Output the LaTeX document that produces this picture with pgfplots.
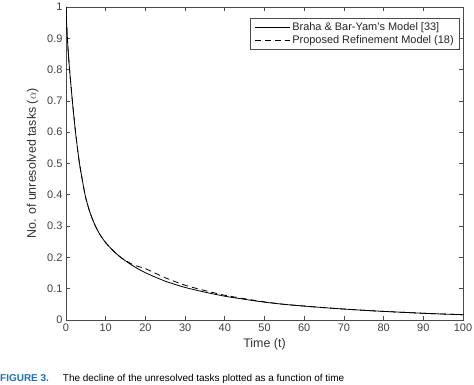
\documentclass[border=0pt]{standalone}
\usepackage{pgfplots}
\pgfplotsset{compat=1.18}
\usepackage{fontspec}
\setmainfont{Liberation Sans}
\definecolor{capblue}{HTML}{1F6FB5}
\definecolor{axgray}{HTML}{4A4A4A}
\begin{document}
\begin{tikzpicture}[x=1bp,y=1bp]
\useasboundingbox (0,0) rectangle (474,384);
\begin{axis}[
  at={(66bp,64bp)}, anchor=south west,
  scale only axis, width=397bp, height=313bp,
  xmin=0, xmax=100, ymin=0, ymax=1,
  xtick={0,10,20,30,40,50,60,70,80,90,100},
  ytick={0,0.1,0.2,0.3,0.4,0.5,0.6,0.7,0.8,0.9,1},
  yticklabels={0,0.1,0.2,0.3,0.4,0.5,0.6,0.7,0.8,0.9,1},
  tick align=inside, tick pos=both,
  major tick length=4bp,
  axis line style={axgray, line width=0.7bp},
  tick style={axgray, line width=0.7bp},
  ticklabel style={font=\fontsize{11}{13}\selectfont, text=black!75},
  /pgf/number format/assume math mode=true,
  xlabel={Time (t)},
  ylabel={No. of unresolved tasks ($\alpha$)},
  label style={font=\fontsize{12.5}{15}\selectfont, text=black!80},
  ylabel style={yshift=2bp},
  legend style={at={(1,1)}, anchor=north east, xshift=-3bp, yshift=-11bp,
    draw=axgray, line width=0.6bp, fill=white,
    font=\fontsize{11}{13}\selectfont, text=black!85,
    inner xsep=4bp, inner ysep=2bp, row sep=0bp},
  legend cell align=left,
  legend image code/.code={\draw[#1] (0bp,0bp) -- (35bp,0bp);},
]
\addplot[black, line width=0.8bp, smooth, tension=0.4] coordinates {
(0,1.0) (0.15,0.95) (0.35,0.90) (0.6,0.85) (0.9,0.80) (1.6,0.70) (2.4,0.60)
(3.4,0.50) (4.8,0.40) (6.0,0.345) (7.3,0.303) (8.5,0.274) (10,0.247)
(12,0.220) (14,0.198) (17,0.172) (20,0.151) (25,0.124) (30,0.104)
(35,0.089) (40,0.076) (45,0.066) (50,0.057) (55,0.050) (60,0.0445)
(65,0.0395) (70,0.035) (75,0.031) (80,0.0275) (85,0.0245) (90,0.0215)
(95,0.019) (100,0.017)};
\addlegendentry{Braha \& Bar-Yam's Model [33]}
\addplot[black, line width=0.8bp, dash pattern=on 6bp off 4bp, smooth, tension=0.4] coordinates {
(0,1.0) (0.15,0.95) (0.35,0.90) (0.6,0.85) (0.9,0.80) (1.6,0.70) (2.4,0.60)
(3.4,0.50) (4.8,0.40) (6.0,0.345) (7.3,0.303) (8.5,0.274) (10,0.247)
(12,0.220) (14,0.198) (17,0.176) (20,0.164) (25,0.135) (30,0.111)
(35,0.094) (40,0.079) (45,0.068) (50,0.058) (55,0.050) (60,0.0445)
(65,0.0395) (70,0.035) (75,0.031) (80,0.0275) (85,0.0245) (90,0.0215)
(95,0.019) (100,0.017)};
\addlegendentry{Proposed Refinement Model (18)}
\end{axis}
\node[anchor=base west, inner sep=0pt] at (0,3)
  {\fontsize{10}{12}\selectfont\textbf{\color{capblue}FIGURE 3.}\hspace{14bp}The decline of the unresolved tasks plotted as a function of time};
\end{tikzpicture}
\end{document}
